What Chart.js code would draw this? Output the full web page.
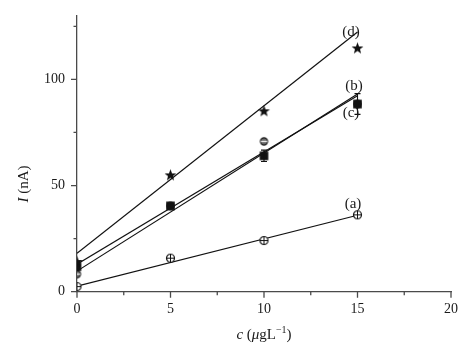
<!DOCTYPE html>
<html>
<head>
<meta charset="utf-8">
<script src="https://cdn.jsdelivr.net/npm/chart.js@4/dist/chart.umd.min.js"></script>
<style>
html,body{margin:0;padding:0;background:#fff;}
#wrap{width:474px;height:359px;position:relative;}
</style>
</head>
<body>
<div id="wrap"><canvas id="c" width="474" height="359"></canvas></div>
<script>
// ---- data ----
const xValues = [0, 5, 10, 15];
const seriesA = [2.4, 15.8, 24.1, 36.2];
const seriesB = [8.3, 40.4, 70.8, 88.4];
const seriesC = [11.8, 40.4, 64.0, 88.4];
const seriesD = [14.2, 55.0, 85.2, 114.8];
const errorC = [0, 0, 2.7, 4.9];
const fitX = [0, 15];
const fitA = [2.6, 36.0];
const fitB = [9.7, 93.1];
const fitC = [12.9, 92.3];
const fitD = [18.1, 122.3];
const seriesLabels = ['(a)', '(b)', '(c)', '(d)'];
const xTicks = [0, 5, 10, 15, 20];
const yTicks = [0, 50, 100];

const SERIF = '"Liberation Serif", "DejaVu Serif", serif';
const INK = '#1a1a1a';
const AXIS = '#4a4a4a';

function mk(size, draw) {
  const cv = document.createElement('canvas');
  cv.width = size; cv.height = size;
  const g = cv.getContext('2d');
  draw(g, size / 2);
  return cv;
}
const markA = mk(11, (g, c) => {
  g.beginPath(); g.arc(c, c, 4, 0, Math.PI * 2);
  g.fillStyle = '#fff'; g.fill();
  g.lineWidth = 1.2; g.strokeStyle = '#111'; g.stroke();
  g.beginPath(); g.moveTo(c - 4, c); g.lineTo(c + 4, c); g.moveTo(c, c - 4); g.lineTo(c, c + 4);
  g.lineWidth = 1; g.stroke();
});
const markB = mk(11, (g, c) => {
  g.beginPath(); g.arc(c, c, 3.6, 0, Math.PI * 2);
  g.fillStyle = '#6a6a6a'; g.fill();
  g.lineWidth = 1.1; g.strokeStyle = '#111'; g.stroke();
  g.beginPath(); g.moveTo(c - 3.2, c); g.lineTo(c + 3.2, c);
  g.lineWidth = 1.3; g.strokeStyle = '#eee'; g.stroke();
});
const markC = mk(11, (g, c) => {
  g.fillStyle = '#111';
  g.fillRect(c - 4.3, c - 4.3, 8.6, 8.6);
});
const markD = mk(15, (g, c) => {
  g.beginPath();
  for (let i = 0; i < 10; i++) {
    const r = i % 2 === 0 ? 6.2 : 2.6;
    const a = -Math.PI / 2 + i * Math.PI / 5;
    const px = c + r * Math.cos(a), py = c + 0.5 + r * Math.sin(a);
    if (i === 0) g.moveTo(px, py); else g.lineTo(px, py);
  }
  g.closePath(); g.fillStyle = '#111'; g.fill();
});

const pts = (arr) => xValues.map((x, i) => ({ x: x, y: arr[i] }));
const fit = (arr) => fitX.map((x, i) => ({ x: x, y: arr[i] }));

function fitDS(arr) {
  return { type: 'line', data: fit(arr), borderColor: '#111', borderWidth: 1.2, pointRadius: 0, fill: false, order: 9 };
}
function ptDS(arr, mark, ord) {
  return { type: 'scatter', data: pts(arr), pointStyle: mark, pointRadius: 5, borderColor: '#111', backgroundColor: '#111', order: ord };
}

const extras = {
  id: 'extras',
  afterDraw(chart) {
    const ctx = chart.ctx;
    const xs = chart.scales.x, ys = chart.scales.y;
    const x0 = xs.left, y0 = ys.bottom;
    ctx.save();
    // axes ticks
    ctx.strokeStyle = AXIS; ctx.lineWidth = 1.3;
    ctx.beginPath();
    for (let v = 0; v <= 20; v += 2.5) {
      const px = xs.getPixelForValue(v);
      const len = (v % 5 === 0) ? 6 : 3.5;
      ctx.moveTo(px, y0); ctx.lineTo(px, y0 + len);
    }
    for (let v = 0; v <= 125; v += 25) {
      const py = ys.getPixelForValue(v);
      const len = (v % 50 === 0) ? 6 : 3.5;
      ctx.moveTo(x0, py); ctx.lineTo(x0 - len, py);
    }
    ctx.stroke();
    // error bars on series (c)
    ctx.strokeStyle = '#111'; ctx.lineWidth = 1.1;
    ctx.beginPath();
    xValues.forEach((x, i) => {
      if (!errorC[i]) return;
      const px = xs.getPixelForValue(x);
      const top = ys.getPixelForValue(seriesC[i] + errorC[i]);
      const bot = ys.getPixelForValue(seriesC[i] - errorC[i]);
      ctx.moveTo(px, top); ctx.lineTo(px, bot);
      ctx.moveTo(px - 3, top); ctx.lineTo(px + 3, top);
      ctx.moveTo(px - 3, bot); ctx.lineTo(px + 3, bot);
    });
    ctx.stroke();
    // series labels near the line ends
    ctx.fillStyle = INK;
    ctx.font = '15px ' + SERIF;
    ctx.textAlign = 'center'; ctx.textBaseline = 'middle';
    const ends = [fitA, fitB, fitC, fitD];
    const offs = [[-4.5, -11.5], [-3.5, -8], [-6.5, 17], [-6.5, 0]];
    ends.forEach((f, i) => {
      const px = xs.getPixelForValue(fitX[1]) + offs[i][0];
      const py = ys.getPixelForValue(f[1]) + offs[i][1];
      ctx.fillText(seriesLabels[i], px, py);
    });
    // y axis title: I (nA)
    ctx.save();
    ctx.translate(24, 184);
    ctx.rotate(-Math.PI / 2);
    ctx.textAlign = 'left'; ctx.textBaseline = 'middle';
    const ySegs = [['italic 15px ' + SERIF, 'I'], ['15px ' + SERIF, ' (nA)']];
    let tw = 0;
    ySegs.forEach(s => { ctx.font = s[0]; tw += ctx.measureText(s[1]).width; });
    let cx = -tw / 2;
    ySegs.forEach(s => { ctx.font = s[0]; ctx.fillText(s[1], cx, 0); cx += ctx.measureText(s[1]).width; });
    ctx.restore();
    // x axis title: c (μgL−1)
    const xSegs = [
      ['italic 15px ' + SERIF, 'c', 0],
      ['15px ' + SERIF, ' (', 0],
      ['italic 15px ' + SERIF, 'μ', 0],
      ['15px ' + SERIF, 'gL', 0],
      ['10px ' + SERIF, '\u22121', -6],
      ['15px ' + SERIF, ')', 0]
    ];
    ctx.textAlign = 'left'; ctx.textBaseline = 'alphabetic';
    tw = 0;
    xSegs.forEach(s => { ctx.font = s[0]; tw += ctx.measureText(s[1]).width; });
    cx = (xs.left + xs.right) / 2 - tw / 2;
    xSegs.forEach(s => { ctx.font = s[0]; ctx.fillText(s[1], cx, 339 + s[2]); cx += ctx.measureText(s[1]).width; });
    ctx.restore();
  }
};

new Chart(document.getElementById('c'), {
  data: {
    datasets: [
      fitDS(fitA), fitDS(fitB), fitDS(fitC), fitDS(fitD),
      ptDS(seriesA, markA, 4), ptDS(seriesB, markB, 3), ptDS(seriesC, markC, 2), ptDS(seriesD, markD, 1)
    ]
  },
  options: {
    responsive: false,
    animation: false,
    events: [],
    layout: { padding: { left: 0, right: 23, top: 15.7, bottom: 0 } },
    plugins: { legend: { display: false }, tooltip: { enabled: false } },
    scales: {
      x: {
        type: 'linear', min: 0, max: 20,
        border: { display: true, color: AXIS, width: 1.3 },
        grid: { display: false, drawTicks: false },
        afterBuildTicks: (s) => { s.ticks = xTicks.map(v => ({ value: v })); },
        ticks: { padding: 9, color: INK, font: { family: SERIF, size: 14 }, maxRotation: 0 },
        afterFit: (s) => { s.height = 67.3; s.paddingLeft = 0; s.paddingRight = 0; }
      },
      y: {
        type: 'linear', min: 0, max: 130,
        border: { display: true, color: AXIS, width: 1.3 },
        grid: { display: false, drawTicks: false },
        afterBuildTicks: (s) => { s.ticks = yTicks.map(v => ({ value: v })); },
        ticks: { padding: 12, color: INK, font: { family: SERIF, size: 14 } },
        afterFit: (s) => { s.width = 77; s.paddingTop = 0; s.paddingBottom = 0; }
      }
    }
  },
  plugins: [extras]
});
</script>
</body>
</html>
